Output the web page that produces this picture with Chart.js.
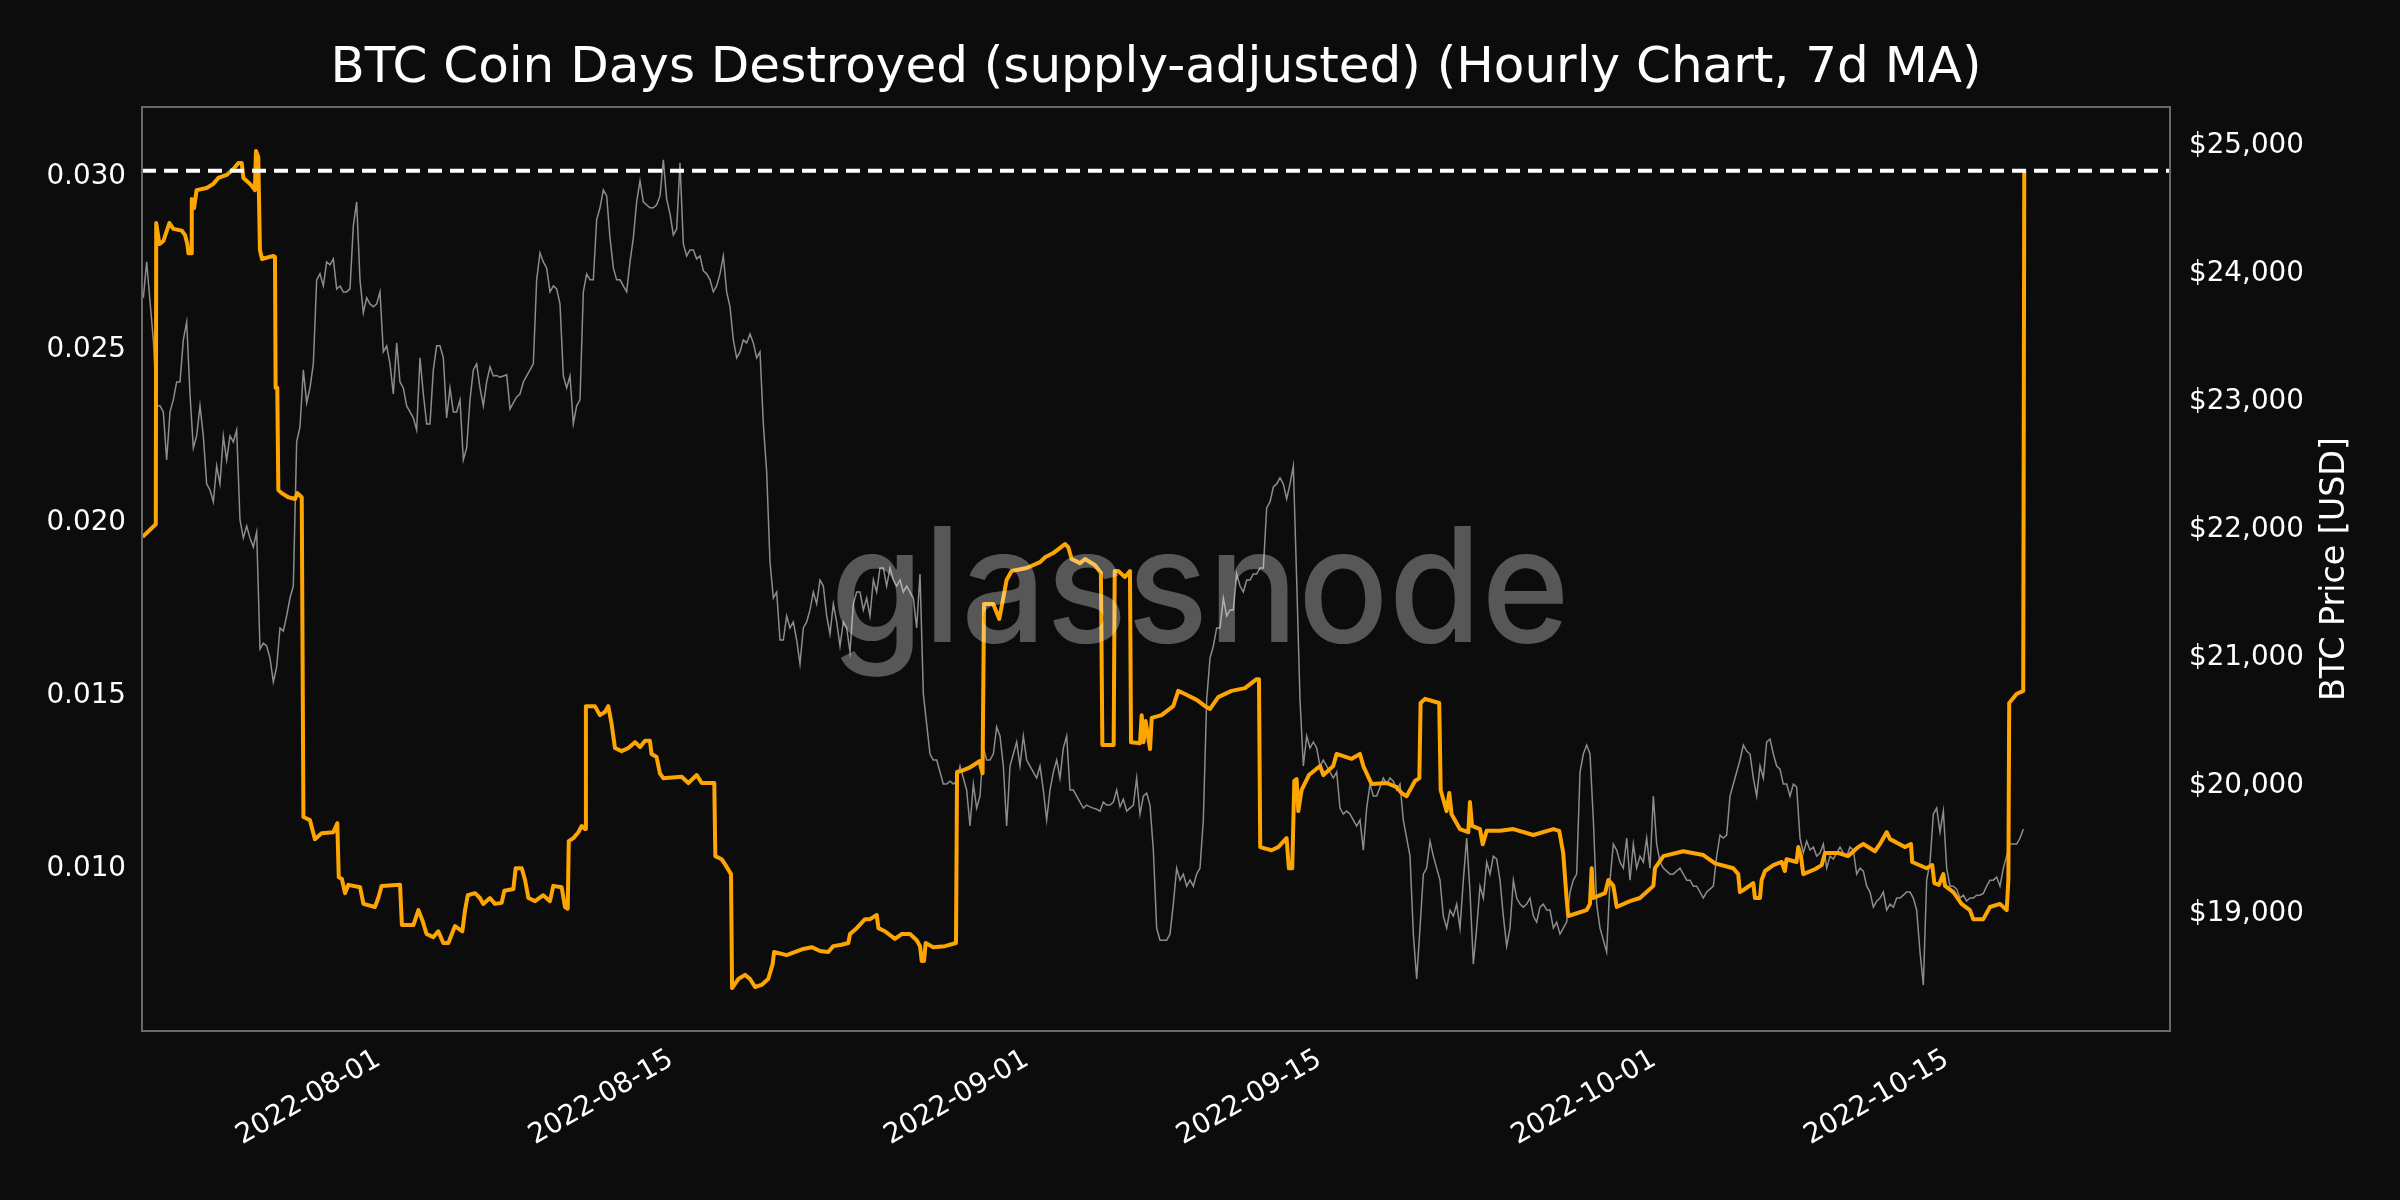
<!DOCTYPE html>
<html>
<head>
<meta charset="utf-8">
<title>BTC Coin Days Destroyed</title>
<script src="https://cdn.jsdelivr.net/npm/chart.js@4.4.0/dist/chart.umd.min.js"></script>
<style>
  html, body { margin: 0; padding: 0; background: #0c0c0c; }
</style>
</head>
<body>
<canvas id="cddChart" width="2400" height="1200"></canvas>
<script>
// colours
let color_bg = "rgb(12,12,12)";
let color_fg = "#ffffff";
let color_frame = "rgb(105,105,105)";
let color_cdd = "#ffa500";
let color_price = "rgb(140,140,140)";
let color_watermark = "rgba(255,255,255,0.31)";

const chartTitle = "BTC Coin Days Destroyed (supply-adjusted) (Hourly Chart, 7d MA)";
const priceAxisTitle = "BTC Price [USD]";
const watermarkText = "glassnode";

// all x values are days since 2022-07-20 00:00 UTC
const dayZero = Date.UTC(2022, 6, 20);
const xMin = 0.69;
const xMax = 97.68;

const dateTicks = ["2022-08-01", "2022-08-15", "2022-09-01", "2022-09-15", "2022-10-01", "2022-10-15"];
const cddTicks = [0.010, 0.015, 0.020, 0.025, 0.030];
const priceTicks = [19000, 20000, 21000, 22000, 23000, 24000, 25000];
const cddRange = [0.00527, 0.03195];
const priceRange = [18066, 25288];

// CDD (supply-adjusted), 7d MA: [day, value]
const cddPoints = [
  [0.72, 0.01954], [1.31, 0.01988], [1.35, 0.01990], [1.37, 0.02860], [1.52, 0.02799],
  [1.71, 0.02808], [2.00, 0.02860], [2.19, 0.02843], [2.59, 0.02838], [2.75, 0.02825],
  [2.86, 0.02799], [2.91, 0.02773], [3.04, 0.02773], [3.07, 0.02929], [3.18, 0.02903],
  [3.30, 0.02955], [3.78, 0.02961], [4.10, 0.02973], [4.34, 0.02990], [4.74, 0.02999],
  [5.06, 0.03016], [5.30, 0.03033], [5.46, 0.03033], [5.54, 0.02990], [5.86, 0.02973],
  [6.09, 0.02955], [6.14, 0.03068], [6.25, 0.03051], [6.33, 0.02782], [6.43, 0.02756],
  [6.97, 0.02765], [7.05, 0.02762], [7.08, 0.02384], [7.16, 0.02384], [7.21, 0.02089],
  [7.37, 0.02080], [7.69, 0.02068], [8.01, 0.02063], [8.12, 0.02080], [8.33, 0.02068],
  [8.41, 0.01145], [8.72, 0.01136], [8.96, 0.01081], [9.28, 0.01098], [9.84, 0.01101],
  [10.03, 0.01127], [10.10, 0.00971], [10.25, 0.00966], [10.40, 0.00925], [10.56, 0.00949],
  [11.12, 0.00942], [11.28, 0.00894], [11.83, 0.00885], [11.99, 0.00911], [12.15, 0.00946],
  [13.03, 0.00949], [13.12, 0.00833], [13.67, 0.00833], [13.91, 0.00876], [14.11, 0.00845],
  [14.30, 0.00807], [14.62, 0.00798], [14.86, 0.00815], [15.10, 0.00781], [15.34, 0.00781],
  [15.66, 0.00830], [16.01, 0.00815], [16.14, 0.00876], [16.27, 0.00919], [16.62, 0.00925],
  [16.85, 0.00911], [17.01, 0.00894], [17.33, 0.00911], [17.57, 0.00894], [17.89, 0.00897],
  [18.02, 0.00932], [18.45, 0.00937], [18.56, 0.00997], [18.85, 0.00997], [19.01, 0.00963],
  [19.17, 0.00911], [19.49, 0.00902], [19.88, 0.00919], [20.20, 0.00902], [20.36, 0.00946],
  [20.76, 0.00942], [20.92, 0.00885], [21.05, 0.00880], [21.10, 0.01075], [21.32, 0.01084],
  [21.56, 0.01101], [21.72, 0.01119], [21.88, 0.01110], [21.92, 0.01465], [22.35, 0.01465],
  [22.59, 0.01439], [22.83, 0.01448], [22.99, 0.01465], [23.15, 0.01413], [23.31, 0.01344],
  [23.63, 0.01335], [23.95, 0.01344], [24.27, 0.01361], [24.51, 0.01347], [24.75, 0.01365],
  [24.98, 0.01365], [25.06, 0.01327], [25.30, 0.01318], [25.46, 0.01271], [25.62, 0.01257],
  [26.50, 0.01261], [26.82, 0.01243], [27.22, 0.01266], [27.46, 0.01243], [28.06, 0.01243],
  [28.11, 0.01032], [28.41, 0.01023], [28.60, 0.01006], [28.86, 0.00980], [28.91, 0.00651],
  [29.21, 0.00677], [29.53, 0.00689], [29.77, 0.00677], [30.01, 0.00654], [30.32, 0.00660],
  [30.64, 0.00677], [30.85, 0.00720], [30.92, 0.00755], [31.52, 0.00746], [32.32, 0.00764],
  [32.72, 0.00769], [33.12, 0.00758], [33.51, 0.00755], [33.75, 0.00772], [34.15, 0.00776],
  [34.47, 0.00781], [34.55, 0.00807], [34.87, 0.00824], [35.27, 0.00850], [35.51, 0.00850],
  [35.83, 0.00862], [35.91, 0.00824], [36.22, 0.00815], [36.70, 0.00793], [37.02, 0.00807],
  [37.42, 0.00807], [37.74, 0.00789], [37.90, 0.00772], [37.98, 0.00729], [38.09, 0.00729],
  [38.17, 0.00781], [38.53, 0.00769], [39.09, 0.00772], [39.62, 0.00781], [39.67, 0.01275],
  [39.89, 0.01278], [40.29, 0.01288], [40.74, 0.01306], [40.89, 0.01271], [40.96, 0.01760],
  [41.40, 0.01760], [41.69, 0.01717], [41.88, 0.01777], [42.04, 0.01829], [42.28, 0.01855],
  [43.00, 0.01864], [43.64, 0.01881], [43.88, 0.01895], [44.27, 0.01907], [44.83, 0.01933],
  [44.99, 0.01924], [45.15, 0.01890], [45.55, 0.01878], [45.79, 0.01890], [46.27, 0.01872],
  [46.55, 0.01850], [46.62, 0.01353], [47.16, 0.01353], [47.21, 0.01855], [47.38, 0.01855],
  [47.70, 0.01838], [47.94, 0.01855], [47.99, 0.01361], [48.42, 0.01358], [48.50, 0.01439],
  [48.59, 0.01361], [48.69, 0.01422], [48.90, 0.01341], [48.98, 0.01431], [49.45, 0.01439],
  [50.01, 0.01465], [50.25, 0.01509], [50.57, 0.01500], [51.13, 0.01483], [51.53, 0.01465],
  [51.77, 0.01457], [52.16, 0.01491], [52.80, 0.01509], [53.44, 0.01517], [54.00, 0.01543],
  [54.11, 0.01543], [54.17, 0.01058], [54.71, 0.01049], [55.03, 0.01058], [55.43, 0.01084],
  [55.54, 0.00997], [55.70, 0.00997], [55.80, 0.01249], [55.91, 0.01254], [55.99, 0.01162],
  [56.15, 0.01223], [56.50, 0.01266], [57.03, 0.01292], [57.19, 0.01266], [57.66, 0.01292],
  [57.82, 0.01327], [58.54, 0.01313], [58.94, 0.01327], [59.10, 0.01292], [59.50, 0.01240],
  [60.22, 0.01243], [60.69, 0.01231], [60.93, 0.01214], [61.17, 0.01205], [61.57, 0.01249],
  [61.78, 0.01257], [61.84, 0.01474], [62.05, 0.01486], [62.73, 0.01474], [62.80, 0.01223],
  [63.08, 0.01162], [63.21, 0.01214], [63.32, 0.01153], [63.72, 0.01110], [64.12, 0.01101],
  [64.20, 0.01188], [64.30, 0.01119], [64.68, 0.01110], [64.81, 0.01066], [65.00, 0.01105],
  [65.64, 0.01105], [66.27, 0.01110], [67.23, 0.01093], [68.19, 0.01110], [68.47, 0.01105],
  [68.66, 0.01041], [68.82, 0.00911], [68.90, 0.00859], [69.78, 0.00876], [69.94, 0.00894],
  [70.02, 0.00997], [70.10, 0.00911], [70.66, 0.00925], [70.82, 0.00963], [71.06, 0.00946],
  [71.22, 0.00885], [71.85, 0.00902], [72.33, 0.00911], [72.97, 0.00946], [73.05, 0.00997],
  [73.45, 0.01032], [74.40, 0.01046], [75.36, 0.01035], [75.92, 0.01011], [76.79, 0.00997],
  [77.03, 0.00980], [77.11, 0.00928], [77.35, 0.00937], [77.75, 0.00954], [77.83, 0.00911],
  [78.07, 0.00911], [78.15, 0.00963], [78.31, 0.00989], [78.71, 0.01006], [79.11, 0.01015],
  [79.26, 0.00989], [79.34, 0.01023], [79.82, 0.01015], [79.90, 0.01058], [80.03, 0.01032],
  [80.14, 0.00980], [80.70, 0.00994], [81.02, 0.01006], [81.18, 0.01041], [81.82, 0.01041],
  [82.29, 0.01032], [82.77, 0.01058], [83.01, 0.01067], [83.57, 0.01046], [83.81, 0.01067],
  [84.13, 0.01101], [84.29, 0.01081], [85.00, 0.01058], [85.29, 0.01067], [85.35, 0.01015],
  [86.04, 0.00997], [86.31, 0.01006], [86.41, 0.00954], [86.63, 0.00949], [86.84, 0.00980],
  [86.92, 0.00946], [87.32, 0.00928], [87.71, 0.00894], [88.11, 0.00876], [88.27, 0.00850],
  [88.75, 0.00850], [89.07, 0.00885], [89.55, 0.00894], [89.87, 0.00876], [89.95, 0.00963],
  [89.99, 0.01474], [90.34, 0.01500], [90.66, 0.01509], [90.71, 0.03011]
];

// BTC price (USD), one sample every ~3.8 h
const priceStartDay = 0.7534;
const priceStepDays = 0.15942;
const btcPrice = [
  23796, 24077, 23772, 23468, 22952, 22952, 22905, 22529, 22905, 22999,
  23139, 23139, 23468, 23608, 23045, 22623, 22717, 22952, 22717, 22342,
  22295, 22201, 22482, 22342, 22717, 22529, 22717, 22670, 22764, 22060,
  21919, 22013, 21919, 21849, 21966, 21051, 21098, 21075, 20981, 20794,
  20911, 21216, 21192, 21310, 21450, 21544, 22670, 22787, 23233, 22975,
  23092, 23280, 23937, 23984, 23890, 24077, 24054, 24101, 23866, 23890,
  23843, 23843, 23866, 24359, 24546, 23937, 23679, 23796, 23749, 23726,
  23749, 23843, 23374, 23421, 23280, 23045, 23444, 23139, 23092, 22952,
  22905, 22858, 22764, 23327, 23045, 22811, 22811, 23233, 23421, 23421,
  23327, 22858, 23092, 22905,
  22905, 22999, 22529, 22623, 22999, 23233, 23280, 23092, 22952, 23139,
  23256, 23186, 23190, 23177, 23186, 23195, 22928, 22975, 23022, 23045,
  23139, 23186, 23233, 23280, 23937, 24148, 24077, 24030, 23843, 23890,
  23866, 23749, 23186, 23092, 23186, 22811, 22952, 22999, 23843, 23984,
  23937, 23937, 24406, 24500, 24640, 24593, 24265, 24030, 23937, 23937,
  23890, 23843, 24077, 24265, 24546, 24711, 24546, 24523, 24500, 24500,
  24523, 24593, 24875, 24570, 24453, 24288, 24335, 24851, 24218, 24124,
  24171, 24171, 24101, 24124, 24007, 23984, 23937, 23843, 23890, 23984,
  24124, 23843, 23726, 23468, 23327, 23374, 23468, 23444, 23514, 23444,
  23327, 23374, 22811, 22436,
  21732, 21450, 21497, 21122, 21122, 21310, 21216, 21263, 21122, 20934,
  21216, 21263, 21357, 21497, 21404, 21591, 21544, 21310, 21169, 21404,
  21263, 21075, 21263, 21216, 21028, 21404, 21497, 21497, 21357, 21450,
  21310, 21591, 21497, 21685, 21685, 21544, 21685, 21591, 21544, 21591,
  21497, 21544, 21497, 21450, 21216, 21638, 20700, 20465, 20231, 20184,
  20184, 20090, 19996, 19996, 20019, 19996, 20019, 20137, 20043, 19949,
  19668, 19996, 19808, 19902, 20278, 20184, 20184, 20231, 20442, 20372,
  20137, 19668, 20137, 20231, 20325, 20137, 20372, 20184, 20137, 20090,
  20043, 20137, 19949, 19715, 19949, 20090, 20184, 20043, 20278, 20372,
  19949, 19949, 19902, 19855, 19808,
  19832, 19818, 19808, 19799, 19785, 19855, 19832, 19832, 19855, 19949,
  19818, 19878, 19785, 19808, 19832, 20043, 19762, 19902, 19925, 19832,
  19480, 18870, 18776, 18776, 18776, 18823, 19058, 19339, 19245, 19292,
  19198, 19245, 19198, 19292, 19339, 19715, 20653, 20981, 21075, 21216,
  21216, 21450, 21310, 21357, 21357, 21638, 21544, 21497, 21591, 21591,
  21638, 21638, 21685, 21685, 22154, 22201, 22318, 22342, 22389, 22342,
  22224, 22342, 22482, 21591, 20653, 20137, 20372, 20278, 20325, 20278,
  20137, 20184, 20137, 20090, 20043, 20090, 19808, 19762, 19785, 19762,
  19715, 19668, 19715, 19480, 19808, 19996, 19902, 19902, 19972, 20043,
  19996, 20043, 20019, 19949,
  19996, 19715, 19574, 19433, 18823, 18472, 18870, 19292, 19339, 19550,
  19433, 19339, 19245, 18964, 18870, 19011, 18964, 19058, 18870, 19245,
  19574, 19152, 18589, 18870, 19198, 19105, 19386, 19292, 19433, 19410,
  19245, 18964, 18730, 18870, 19245, 19105, 19058, 19034, 19058, 19105,
  18964, 18917, 19034, 19058, 19011, 19011, 18870, 18917, 18823, 18870,
  18917, 19152, 19245, 19292, 20090, 20231, 20301, 20231, 19715, 19058,
  18870, 18776, 18683, 19245, 19527, 19480, 19386, 19339, 19574, 19245,
  19527, 19339, 19433, 19386, 19574, 19339, 19902, 19527, 19386, 19339,
  19316, 19292, 19292, 19316, 19339, 19292, 19245, 19245, 19198, 19198,
  19152, 19105, 19152, 19175, 19198,
  19433, 19597, 19574, 19597, 19902, 19996, 20090, 20184, 20301, 20254,
  20231, 20043, 19902, 20137, 20043, 20325, 20348, 20231, 20137, 20113,
  19996, 19996, 19902, 19996, 19972, 19574, 19457, 19550, 19480, 19503,
  19433, 19457, 19527, 19339, 19433, 19410, 19457, 19503, 19457, 19433,
  19503, 19480, 19292, 19339, 19316, 19198, 19152, 19034, 19081, 19105,
  19152, 19011, 19058, 19034, 19105, 19105, 19128, 19152, 19152, 19105,
  19011, 18683, 18425, 19245, 19386, 19762, 19808, 19621, 19785, 19339,
  19198, 19198, 19175, 19105, 19128, 19081, 19105, 19105, 19128, 19128,
  19142, 19198, 19245, 19245, 19269, 19198, 19339, 19433, 19527, 19527,
  19527, 19574, 19644
];

Chart.defaults.font.family = "'DejaVu Sans', sans-serif";

function dayOf(dateStr) {
    return (Date.parse(dateStr + "T00:00:00Z") - dayZero) / 864e5;
}

const cddData = cddPoints.map(p => ({ x: p[0], y: p[1] }));
const priceData = btcPrice.map((v, i) => ({ x: priceStartDay + i * priceStepDays, y: v }));
const lastCdd = cddPoints[cddPoints.length - 1][1];

// background, watermark, frame, title and right axis title
const deko = {
    id: "deko",
    beforeDraw(chart) {
        const ctx = chart.ctx;
        ctx.save();
        ctx.fillStyle = color_bg;
        ctx.fillRect(0, 0, chart.width, chart.height);
        ctx.restore();
    },
    afterDatasetsDraw(chart) {
        const ctx = chart.ctx;
        const a = chart.chartArea;
        ctx.save();
        ctx.font = "500 160px Inter";
        const w = ctx.measureText(watermarkText).width;
        ctx.translate(chart.width / 2, 642);
        ctx.scale(739 / w, 1);
        ctx.fillStyle = color_watermark;
        ctx.textAlign = "center";
        ctx.textBaseline = "alphabetic";
        ctx.fillText(watermarkText, 0, 0);
        ctx.restore();

        ctx.save();
        ctx.strokeStyle = color_frame;
        ctx.lineWidth = 2;
        ctx.strokeRect(a.left, a.top, a.right - a.left, a.bottom - a.top);
        ctx.restore();
    },
    afterDraw(chart) {
        const ctx = chart.ctx;
        const a = chart.chartArea;
        ctx.save();
        ctx.fillStyle = color_fg;
        ctx.font = "50px 'DejaVu Sans'";
        ctx.textAlign = "center";
        ctx.textBaseline = "alphabetic";
        ctx.fillText(chartTitle, (a.left + a.right) / 2, 82);

        ctx.font = "33.3px 'DejaVu Sans'";
        ctx.translate(2335, (a.top + a.bottom) / 2);
        ctx.rotate(-Math.PI / 2);
        ctx.textBaseline = "middle";
        ctx.fillText(priceAxisTitle, 0, 0);
        ctx.restore();
    }
};

const tickFont = { family: "'DejaVu Sans'", size: 27.8 };

new Chart(document.getElementById("cddChart").getContext("2d"), {
    type: "line",
    data: {
        datasets: [
            {
                label: "latest",
                data: [{ x: xMin, y: lastCdd }, { x: xMax, y: lastCdd }],
                borderColor: color_fg,
                borderWidth: 4,
                borderDash: [14, 8],
                yAxisID: "y",
                order: 0
            },
            {
                label: "CDD",
                data: cddData,
                borderColor: color_cdd,
                borderWidth: 4,
                borderJoinStyle: "round",
                yAxisID: "y",
                order: 1
            },
            {
                label: "Price",
                data: priceData,
                borderColor: color_price,
                borderWidth: 1.5,
                yAxisID: "y1",
                order: 2
            }
        ]
    },
    options: {
        responsive: false,
        animation: false,
        layout: { padding: { top: 107, left: 0, right: 0, bottom: 0 }, autoPadding: false },
        elements: { point: { radius: 0 }, line: { tension: 0 } },
        plugins: {
            legend: { display: false },
            tooltip: { enabled: false },
            title: { display: false }
        },
        scales: {
            x: {
                type: "linear",
                min: xMin,
                max: xMax,
                afterFit: s => { s.height = 169; },
                afterBuildTicks: s => { s.ticks = dateTicks.map(d => ({ value: dayOf(d) })); },
                grid: { display: false, drawTicks: false },
                border: { display: false },
                ticks: {
                    color: color_fg,
                    font: tickFont,
                    minRotation: 30,
                    maxRotation: 30,
                    autoSkip: false,
                    padding: 12,
                    callback: (v, i) => dateTicks[i]
                }
            },
            y: {
                position: "left",
                min: cddRange[0],
                max: cddRange[1],
                afterFit: s => { s.width = 142; },
                afterBuildTicks: s => { s.ticks = cddTicks.map(v => ({ value: v })); },
                grid: { display: false, drawTicks: false },
                border: { display: false },
                ticks: {
                    color: color_fg,
                    font: tickFont,
                    padding: 16,
                    labelOffset: 2,
                    callback: v => v.toFixed(3)
                }
            },
            y1: {
                position: "right",
                min: priceRange[0],
                max: priceRange[1],
                afterFit: s => { s.width = 230; },
                afterBuildTicks: s => { s.ticks = priceTicks.map(v => ({ value: v })); },
                grid: { display: false, drawTicks: false },
                border: { display: false },
                ticks: {
                    color: color_fg,
                    font: tickFont,
                    padding: 19,
                    labelOffset: 2,
                    callback: v => "$" + v.toLocaleString("en-US")
                }
            }
        }
    },
    plugins: [deko]
});
</script>
</body>
</html>
